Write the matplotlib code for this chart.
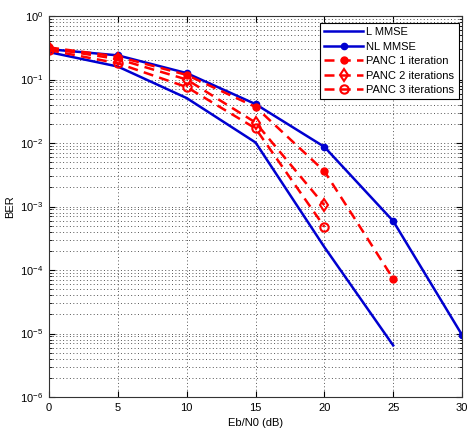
import matplotlib
matplotlib.use('Agg')
import matplotlib.pyplot as plt
from matplotlib.ticker import NullFormatter
import numpy as np

plt.rcParams['font.family']=['Liberation Sans','DejaVu Sans']
plt.rcParams['mathtext.fontset']='custom'
plt.rcParams['mathtext.rm']='Liberation Sans'
plt.rcParams['mathtext.it']='Liberation Sans:italic'

#Data.
snr=[0,5,10,15,20,25,30]
l_mmse=[0.27,0.16,0.051,0.0102,2.3e-4,6.5e-6]
nl_mmse=[0.30,0.24,0.126,0.041,0.0087,5.9e-4,9.5e-6]
panc1=[0.32,0.23,0.118,0.037,0.0036,7.3e-5]
panc2=[0.31,0.21,0.100,0.021,1.05e-3]
panc3=[0.29,0.18,0.076,0.017,4.8e-4]
exps=[-6,-5,-4,-3,-2,-1,0]

BLUE='#0000d0'
RED='#ff0000'

fig=plt.figure(figsize=(4.74,4.38),dpi=100)
ax=fig.add_axes([49/474,1-397/438,413/474,381/438])
ax.semilogy(snr[:len(l_mmse)],l_mmse,'-',color=BLUE,lw=1.8,label='L MMSE')
ax.semilogy(snr[:len(nl_mmse)],nl_mmse,'-',color=BLUE,lw=1.8,marker='o',ms=4.5,label='NL MMSE')
dash=(4,2.5)
ax.semilogy(snr[:len(panc1)],panc1,'--',color=RED,lw=1.8,dashes=dash,marker='o',ms=5,label='PANC 1 iteration')
ax.semilogy(snr[:len(panc2)],panc2,'--',color=RED,lw=1.8,dashes=dash,marker='d',ms=6,mfc='none',mew=1.5,label='PANC 2 iterations')
ax.semilogy(snr[:len(panc3)],panc3,'--',color=RED,lw=1.8,dashes=dash,marker='o',ms=6,mfc='none',mew=1.5,label='PANC 3 iterations')

ax.set_xlim(0,30)
ax.set_ylim(1e-6,1)
ax.set_xticks(snr)
ax.set_yticks([10.0**e for e in exps])
ax.set_yticklabels([r'$10^{%d}$'%e for e in exps])
minor=[m*10.0**e for e in exps[:-1] for m in range(2,10)]
ax.set_yticks(minor,minor=True)
ax.yaxis.set_minor_formatter(NullFormatter())
ax.tick_params(which='both',direction='in',top=True,right=True,labelsize=8)
ax.tick_params(which='major',length=4,pad=4)
ax.tick_params(which='minor',length=2)
ax.grid(True,which='major',linestyle=(0,(1,2.5)),color='#555555',lw=0.7)
ax.grid(True,which='minor',axis='y',linestyle=(0,(1,2.5)),color='#555555',lw=0.7)
for s in ax.spines.values():
    s.set_color('#333333')
ax.set_xlabel('Eb/N0 (dB)',fontsize=8)
ax.set_ylabel('BER',fontsize=8)

leg=ax.legend(loc='upper right',bbox_to_anchor=(0.995,0.985),fontsize=8,
    handlelength=3.5,fancybox=False,framealpha=1,edgecolor='black',
    borderpad=0.4,labelspacing=0.4,handletextpad=0.3,borderaxespad=0.1)
leg.get_frame().set_linewidth(0.8)

fig.savefig('out.png',dpi=100,facecolor='white')
